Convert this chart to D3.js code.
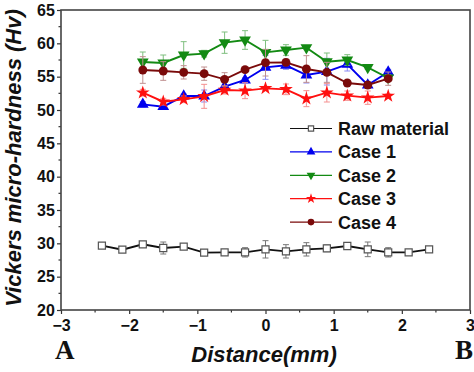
<!DOCTYPE html>
<html>
<head>
<meta charset="utf-8">
<script src="https://cdn.jsdelivr.net/npm/d3@7"></script>
<style>
  body { margin: 0; background: #fff; }
  text { font-family: "Liberation Sans", Arial, sans-serif; }
</style>
</head>
<body>
<div class="chart-container"></div>
<script>
// datos
const xRaw = [-2.4, -2.1, -1.8, -1.5, -1.2, -0.9, -0.6, -0.3, 0, 0.3, 0.6, 0.9, 1.2, 1.5, 1.8, 2.1, 2.4]
const xCase = [-1.8, -1.5, -1.2, -0.9, -0.6, -0.3, 0, 0.3, 0.6, 0.9, 1.2, 1.5, 1.8]

const rawVals = [29.65, 29.05, 29.85, 29.3, 29.5, 28.6, 28.65, 28.65, 29.1, 28.8, 29.1, 29.25, 29.6, 29.1, 28.65, 28.65, 29.1]
const rawErr = [0.3, 0.3, 0.4, 0.9, 0.3, 0.4, 0.3, 0.7, 1.3, 1.0, 1.0, 0.5, 0.3, 1.1, 0.7, 0.3, 0.3]

const case1Vals = [50.85, 50.5, 52.1, 52.1, 53.5, 54.5, 56.4, 56.7, 55.25, 55.75, 56.85, 53.75, 55.7]
const case1Err = [0.4, 0.4, 0.3, 0.9, 0.7, 0.3, 1.8, 0.6, 1.2, 2.0, 1.0, 0.5, 0.4]

const case2Vals = [57.2, 57.05, 58.25, 58.45, 60.1, 60.5, 58.65, 59.0, 59.35, 57.25, 57.5, 56.4, 54.8]
const case2Err = [1.5, 1.2, 2.0, 0.5, 1.6, 1.4, 1.8, 0.8, 0.3, 1.3, 0.8, 0.3, 0.5]

const case3Vals = [52.6, 51.25, 51.6, 52.05, 53.0, 52.9, 53.25, 53.1, 51.7, 52.6, 52.15, 51.85, 52.1]
const case3Err = [0.5, 0.5, 0.5, 1.8, 0.6, 1.2, 0.3, 0.8, 1.2, 1.4, 0.7, 1.0, 0.3]

const case4Vals = [56.0, 55.85, 55.65, 55.45, 54.6, 56.05, 57.1, 57.15, 56.15, 55.65, 54.05, 53.75, 54.7]
const case4Err = [2.0, 1.4, 1.0, 1.0, 1.0, 0.3, 2.0, 0.5, 2.0, 1.5, 0.3, 0.3, 1.0]

const seriesNames = ["Raw material", "Case 1", "Case 2", "Case 3", "Case 4"]
const xTicks = [-3, -2, -1, 0, 1, 2, 3]
const yTicks = [20, 25, 30, 35, 40, 45, 50, 55, 60, 65]

const WIDTH = 474
const HEIGHT = 372
const margin = { top: 10, left: 61, right: 5, bottom: 62 }

const svg = d3.select(".chart-container")
  .append("svg")
  .attr("width", WIDTH)
  .attr("height", HEIGHT)

const xScale = d3.scaleLinear().domain([-3, 3]).range([margin.left, WIDTH - margin.right + 1])
const yScale = d3.scaleLinear().domain([20, 65]).range([HEIGHT - margin.bottom, margin.top])

const series = [
  { name: seriesNames[0], xs: xRaw, vals: rawVals, err: rawErr, color: "#111", errColor: "#777", marker: "square" },
  { name: seriesNames[1], xs: xCase, vals: case1Vals, err: case1Err, color: "#0000ee", errColor: "#8a8af5", marker: "triangle" },
  { name: seriesNames[2], xs: xCase, vals: case2Vals, err: case2Err, color: "#138a13", errColor: "#7fbf7f", marker: "down" },
  { name: seriesNames[3], xs: xCase, vals: case3Vals, err: case3Err, color: "#ff1010", errColor: "#f59090", marker: "star" },
  { name: seriesNames[4], xs: xCase, vals: case4Vals, err: case4Err, color: "#7a0a0a", errColor: "#c09090", marker: "circle" },
]

const symbolFor = (m, k) => {
  if (m == "square") return d3.symbol().type(d3.symbolSquare).size(50 * k)()
  if (m == "triangle") return d3.symbol().type(d3.symbolTriangle).size(60 * k)()
  if (m == "down") return d3.symbol().type(d3.symbolTriangle).size(60 * k)()
  if (m == "star") return d3.symbol().type(d3.symbolStar).size(58 * k)()
  return d3.symbol().type(d3.symbolCircle).size(62 * k)()
}

const drawMarker = (g, s, x, y, k) => {
  const p = g.append("path")
    .attr("d", symbolFor(s.marker, k))
    .attr("transform", `translate(${x},${y})` + (s.marker == "down" ? " rotate(180)" : ""))
  if (s.marker == "square") {
    p.attr("fill", "#fff").attr("stroke", "#555").attr("stroke-width", 1.2)
  } else {
    p.attr("fill", s.color).attr("stroke", "none")
  }
}

// Ejes
const xAxis = d3.axisBottom(xScale).tickValues(xTicks).tickSize(4).tickPadding(3).tickFormat(d3.format("d"))
const yAxis = d3.axisLeft(yScale).tickValues(yTicks).tickSize(4).tickPadding(3)

const xAxisG = svg.append("g").attr("transform", `translate(0, ${yScale(20)})`).call(xAxis)
const yAxisG = svg.append("g").attr("transform", `translate(${xScale(-3)}, 0)`).call(yAxis)

;[xAxisG, yAxisG].forEach(g => {
  g.select(".domain").remove()
  g.selectAll(".tick line").attr("stroke", "#333").attr("stroke-width", 1.2)
  g.selectAll(".tick text").attr("fill", "#111").attr("font-size", 16).attr("font-weight", "bold")
})
xAxisG.selectAll(".tick text").attr("dy", "0.85em")
yAxisG.selectAll(".tick text").attr("dx", "0.05em")

// minor ticks
const minorX = d3.range(-2.5, 3, 1)
const minorY = d3.range(22.5, 65, 5)
svg.append("g").selectAll("line").data(minorX).join("line")
  .attr("x1", d => xScale(d)).attr("x2", d => xScale(d))
  .attr("y1", yScale(20)).attr("y2", yScale(20) + 2.5)
  .attr("stroke", "#333").attr("stroke-width", 1.2)
svg.append("g").selectAll("line").data(minorY).join("line")
  .attr("x1", xScale(-3) - 2.5).attr("x2", xScale(-3))
  .attr("y1", d => yScale(d)).attr("y2", d => yScale(d))
  .attr("stroke", "#333").attr("stroke-width", 1.2)

// marco
svg.append("rect")
  .attr("x", xScale(-3)).attr("y", yScale(65))
  .attr("width", xScale(3) - xScale(-3)).attr("height", yScale(20) - yScale(65))
  .attr("fill", "none").attr("stroke", "#444").attr("stroke-width", 1.6)

const lineGenerator = d3.line().x(d => xScale(d.x)).y(d => yScale(d.y))

const plot = svg.append("g")

series.forEach(s => {
  const pts = s.xs.map((x, i) => ({ x: x, y: s.vals[i], e: s.err[i] }))
  // barras de error
  const eg = plot.append("g").attr("stroke", s.errColor).attr("stroke-width", 1)
  pts.forEach(d => {
    const cx = xScale(d.x)
    eg.append("line").attr("x1", cx).attr("x2", cx).attr("y1", yScale(d.y - d.e)).attr("y2", yScale(d.y + d.e))
    eg.append("line").attr("x1", cx - 3).attr("x2", cx + 3).attr("y1", yScale(d.y - d.e)).attr("y2", yScale(d.y - d.e))
    eg.append("line").attr("x1", cx - 3).attr("x2", cx + 3).attr("y1", yScale(d.y + d.e)).attr("y2", yScale(d.y + d.e))
  })
  plot.append("path")
    .attr("d", lineGenerator(pts))
    .attr("fill", "none")
    .attr("stroke", s.color)
    .attr("stroke-width", 1.9)
  const mg = plot.append("g")
  pts.forEach(d => drawMarker(mg, s, xScale(d.x), yScale(d.y), 1))
})

// Leyenda
const leyend = svg.append("g")
series.forEach((s, i) => {
  const y = 128.5 + i * 23.4
  leyend.append("line").attr("x1", 290).attr("x2", 332).attr("y1", y).attr("y2", y)
    .attr("stroke", s.color).attr("stroke-width", 1.2)
  drawMarker(leyend, s, 311, y, 0.55)
  leyend.append("text").attr("x", 338).attr("y", y).attr("dy", "0.36em")
    .attr("font-size", 18).attr("font-weight", "bold").attr("fill", "#111")
    .text(s.name)
})

// Titulos de ejes
svg.append("text")
  .attr("transform", `translate(21, ${(yScale(20) + yScale(65)) / 2 - 2}) rotate(-90)`)
  .attr("text-anchor", "middle")
  .attr("font-size", 22).attr("font-weight", "bold").attr("font-style", "italic").attr("fill", "#111")
  .text("Vickers micro-hardness (Hv)")

svg.append("text")
  .attr("x", 264).attr("y", 362)
  .attr("text-anchor", "middle")
  .attr("font-size", 22).attr("font-weight", "bold").attr("font-style", "italic").attr("fill", "#111")
  .text("Distance(mm)")

svg.append("text").attr("x", 55).attr("y", 359)
  .style("font-family", "'Liberation Serif', 'Times New Roman', serif")
  .attr("font-size", 27).attr("font-weight", "bold").attr("fill", "#111").text("A")
svg.append("text").attr("x", 455).attr("y", 359)
  .style("font-family", "'Liberation Serif', 'Times New Roman', serif")
  .attr("font-size", 27).attr("font-weight", "bold").attr("fill", "#111").text("B")
</script>
</body>
</html>
